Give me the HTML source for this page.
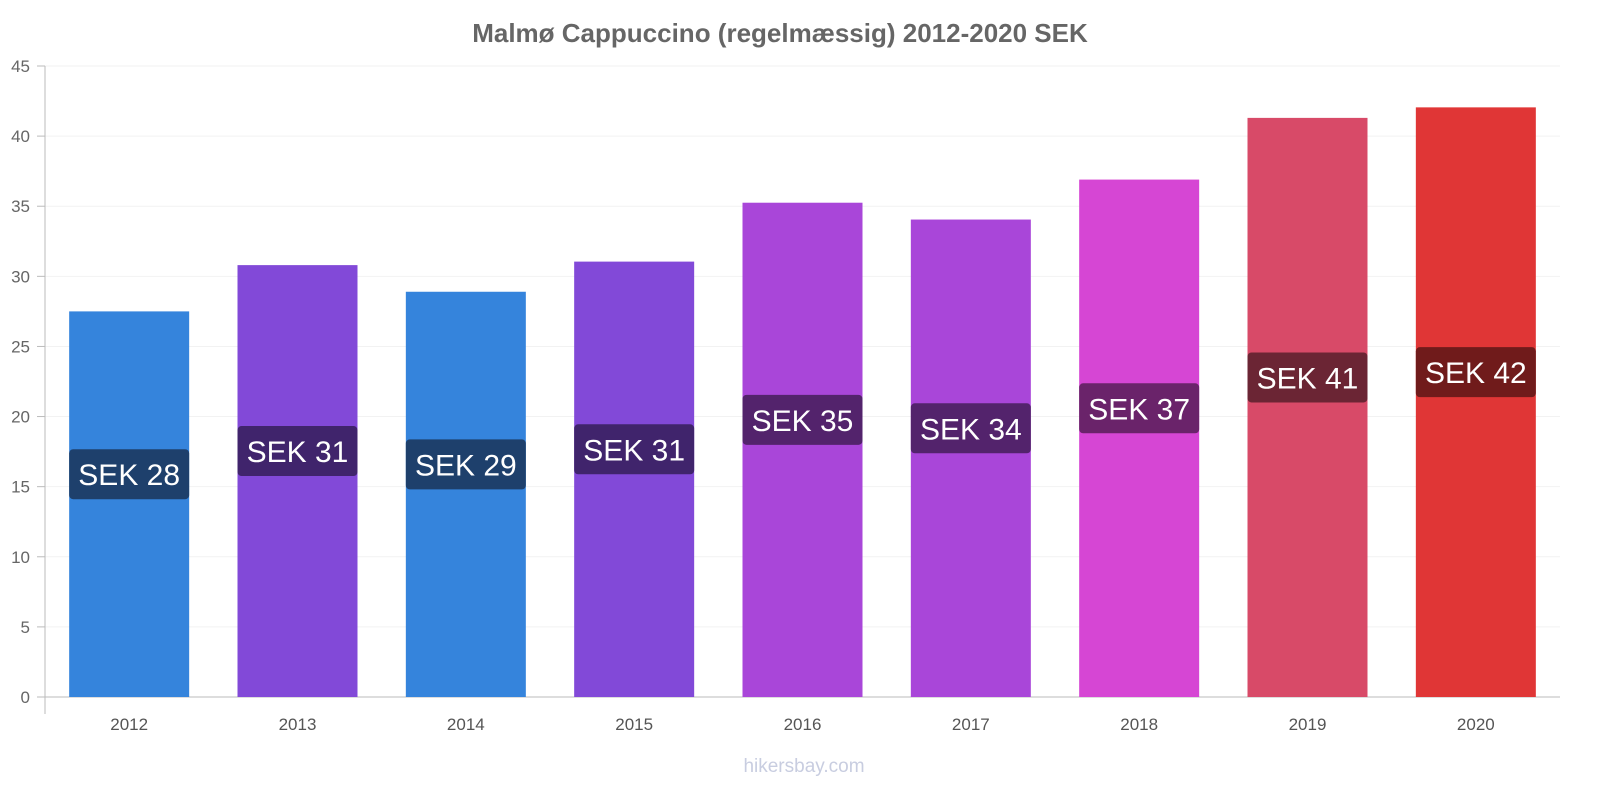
<!DOCTYPE html>
<html><head><meta charset="utf-8"><style>
html,body{margin:0;padding:0;width:1600px;height:800px;overflow:hidden;background:#fff;font-family:"Liberation Sans",sans-serif}
svg{display:block}
</style></head><body>
<svg id="chart" width="1600" height="800" xmlns="http://www.w3.org/2000/svg" font-family="Liberation Sans, sans-serif">
<text x="780" y="42" text-anchor="middle" font-size="26" font-weight="bold" fill="#666">Malmø Cappuccino (regelmæssig) 2012-2020 SEK</text>
<g id="grid"></g><g id="bars"></g>
<text x="804" y="772" text-anchor="middle" font-size="19" fill="#c8cde0">hikersbay.com</text>
</svg>
<script>
const categories=["2012","2013","2014","2015","2016","2017","2018","2019","2020"];
const values=[27.5,30.8,28.9,31.05,35.25,34.05,36.9,41.3,42.05];
const labels=["SEK 28","SEK 31","SEK 29","SEK 31","SEK 35","SEK 34","SEK 37","SEK 41","SEK 42"];
const barColors=["#3584dc","#8249d8","#3584dc","#8249d8","#a946d9","#a946d9","#d646d4","#d84a68","#e03636"];
const labelColors=["#1e406c","#40246c","#1e406c","#40246c","#53236c","#53236c","#6a236a","#6b2534","#701b1b"];
const yTicks=[0,5,10,15,20,25,30,35,40,45];
const NS="http://www.w3.org/2000/svg";
const x0=45,x1=1560,yb=697,yt=66,ymax=45;
const y=v=>yb-(yb-yt)*v/ymax;
const band=(x1-x0)/categories.length;
const xc=i=>x0+band*(i+0.5);
function mk(t,a,p){const e=document.createElementNS(NS,t);for(const k in a)e.setAttribute(k,a[k]);p.appendChild(e);return e;}
const g=document.getElementById('grid'),b=document.getElementById('bars');
yTicks.forEach(v=>{
 const l=mk('line',{x1:x0,x2:x1,y1:y(v),y2:y(v),stroke:v===0?'#bbb':'#f2f2f2'},g);
 
 
 mk('line',{x1:x0-8,x2:x0,y1:y(v),y2:y(v),stroke:'#bbb'},g);
 const t=mk('text',{x:30,y:y(v)+6,'text-anchor':'end','font-size':17,fill:'#666'},g);t.textContent=v;
 
 
});
const ax=mk('line',{x1:x0,x2:x0,y1:yt,y2:714,stroke:'#bbb'},g);


categories.forEach((c,i)=>{
 const cx=xc(i),top=y(values[i]);
 const r=mk('rect',{x:cx-60,y:top,width:120,height:yb-top,fill:barColors[i]},b);
 
 
 const t=mk('text',{x:cx,y:730,'text-anchor':'middle','font-size':17,fill:'#555'},b);t.textContent=c;
 
 
 const ly=(top+yb)/2-30;
 const bx=mk('rect',{x:cx-60,y:ly-25,width:120,height:50,rx:4,fill:labelColors[i]},b);
 
 
 const lt=mk('text',{x:cx,y:ly+11,'text-anchor':'middle','font-size':30,fill:'#fff'},b);lt.textContent=labels[i];
 
 
});
</script>
</body></html>
